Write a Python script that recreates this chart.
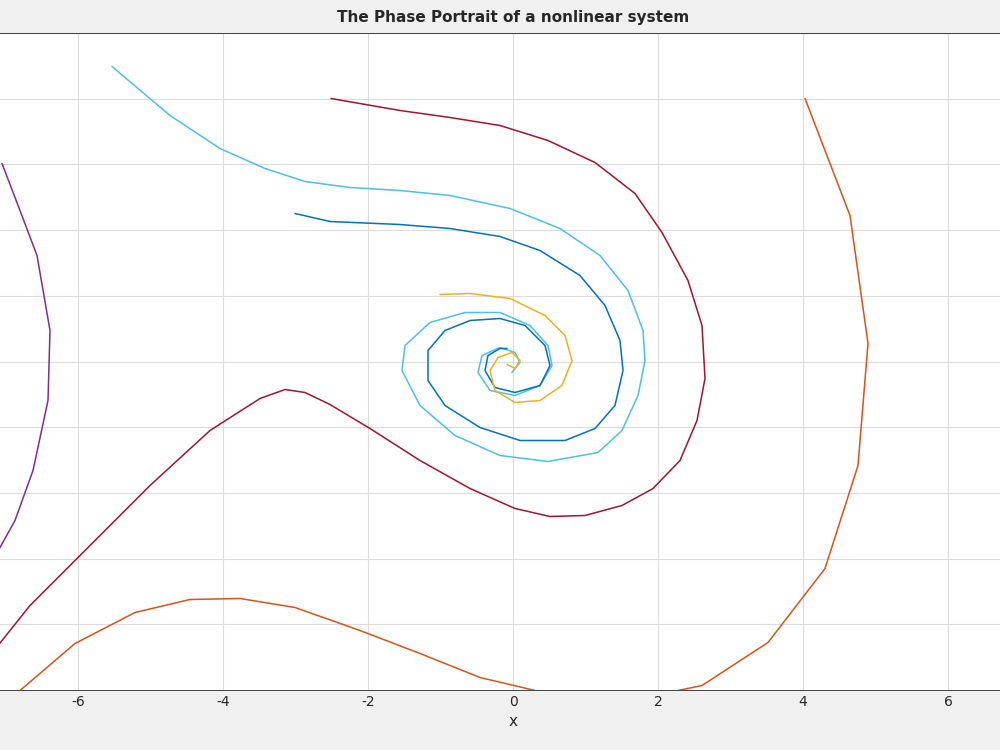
import numpy as np, pandas as pd, seaborn as sns, matplotlib
matplotlib.use("Agg")
import matplotlib.pyplot as plt

def px(pts):
    a = np.array(pts, float)
    return (a[:, 0] - 513) / 72.5, (361 - a[:, 1]) / 65.7

lightblue = [(112,66),(170,115),(220,148),(265,168),(305,181),(350,187),(400,190),(450,195),(510,208),(560,228),(600,255),(628,290),(643,330),(645,360),(638,395),(622,430),(598,452),(548,461),(500,455),(455,435),(420,405),(402,370),(405,345),(430,322),(465,312),(500,312),(530,325),(548,345),(552,365),(540,385),(515,395),(490,390),(478,372),(482,355),(500,347),(515,352),(520,362),(512,372)]
blue = [(295,213),(330,221),(400,224),(450,228),(500,236),(540,250),(580,275),(605,305),(620,340),(623,370),(615,405),(595,428),(565,440),(520,440),(480,427),(445,405),(428,380),(428,350),(445,330),(470,320),(500,318),(525,325),(545,345),(550,365),(540,385),(515,392),(495,387),(485,370),(488,355),(500,348),(507,348)]
yellow = [(440,294),(470,293),(510,298),(545,315),(565,335),(572,360),(562,385),(540,400),(515,402),(495,390),(490,370),(498,357),(512,352),(520,360),(515,368),(507,364)]
darkred = [(331,98),(400,110),(450,117),(500,125),(548,140),(595,162),(635,193),(662,232),(688,280),(702,325),(705,378),(697,420),(680,460),(653,488),(622,505),(585,515),(550,516),(515,508),(470,488),(420,460),(370,428),(330,404),(305,392),(285,389),(260,398),(210,430),(150,485),(90,545),(30,605),(-10,655)]
purple = [(2,163),(20,210),(37,255),(50,330),(48,400),(33,470),(15,520),(-10,565)]
orange1 = [(20,690),(75,643),(135,612),(190,599),(240,598),(295,607),(360,630),(420,653),(480,677),(535,690)]
orange2 = [(805,98),(850,215),(868,343),(858,465),(825,568),(768,642),(702,685),(678,690)]

xticks = [-8, -6, -4, -2, 0, 2, 4, 6, 8]
xticklabels = ["", "-6", "-4", "-2", "0", "2", "4", "6", ""]

curves = [(lightblue,"#4DBEEE"),(blue,"#0072BD"),(yellow,"#EDB120"),(darkred,"#A2142F"),
          (purple,"#7E2F8E"),(orange1,"#D95319"),(orange2,"#D95319")]

sns.set_style("white")
fig = plt.figure(figsize=(10, 7.5), dpi=100, facecolor="#f0f0f0")
ax = fig.add_axes([-0.067, 0.08, 1.16, 0.876])
for pts, c in curves:
    x, y = px(pts)
    df = pd.DataFrame({"x": x, "y": y})
    sns.lineplot(data=df, x="x", y="y", sort=False, color=c, lw=1.1, ax=ax, estimator=None)
ax.set_xlim(-8, 8); ax.set_ylim(-5, 5)
ax.set_xticks(xticks); ax.set_xticklabels(xticklabels)
ax.set_yticks(np.arange(-5, 6, 1)); ax.set_yticklabels([])
ax.grid(True, color="#dcdcdc", lw=0.8)
ax.tick_params(labelsize=10, colors="#262626", direction="in", length=4)
ax.set_xlabel("x", fontsize=11, color="#262626")
ax.set_ylabel("")
ax.set_title("The Phase Portrait of a nonlinear system", fontsize=11, fontweight="bold", pad=8)
for s in ax.spines.values():
    s.set_color("#262626"); s.set_linewidth(0.6)
fig.savefig("out.png", dpi=100, facecolor=fig.get_facecolor())
